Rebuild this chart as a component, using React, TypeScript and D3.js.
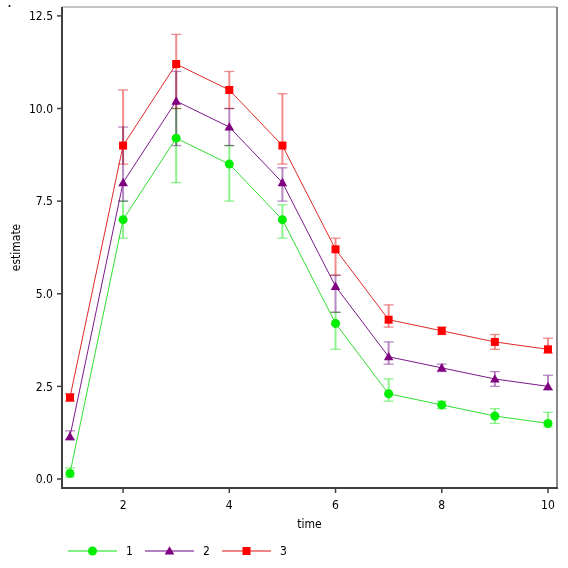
import React from "react";
import * as d3 from "d3";

const times = [1, 2, 3, 4, 5, 6, 7, 8, 9, 10];
const groupNames = ["1", "2", "3"];

const est1 = [0.15, 7.0, 9.2, 8.5, 7.0, 4.2, 2.3, 2.0, 1.7, 1.5];
const lo1 = [0.05, 6.5, 8.0, 7.5, 6.5, 3.5, 2.1, 1.9, 1.5, 1.4];
const hi1 = [0.3, 7.5, 10.0, 9.0, 7.4, 4.5, 2.7, 2.1, 1.9, 1.8];

const est2 = [1.15, 8.0, 10.2, 9.5, 8.0, 5.2, 3.3, 3.0, 2.7, 2.5];
const lo2 = [1.05, 7.5, 9.0, 9.0, 7.5, 4.5, 3.1, 2.9, 2.5, 2.4];
const hi2 = [1.3, 9.5, 11.0, 10.0, 8.4, 5.5, 3.7, 3.1, 2.9, 2.8];

const est3 = [2.2, 9.0, 11.2, 10.5, 9.0, 6.2, 4.3, 4.0, 3.7, 3.5];
const lo3 = [2.1, 8.5, 10.0, 10.0, 8.5, 5.5, 4.1, 3.9, 3.5, 3.4];
const hi3 = [2.3, 10.5, 12.0, 11.0, 10.4, 6.5, 4.7, 4.1, 3.9, 3.8];

const xTicks = [2, 4, 6, 8, 10];
const yTicks = [0, 2.5, 5, 7.5, 10, 12.5];

const colors = ["#00ee00", "#800080", "#ff0000"];
const lineColors = ["#33dd33", "#7a1a8a", "#e02a2a"];
const barColors = ["#66ee66", "#a060b0", "#ee6666"];
const shapes = ["circle", "triangle", "square"];

const W = 568;
const H = 568;
const L = 62, R = 557, T = 7, B = 488;
const FONT = "'Liberation Sans Narrow', 'DejaVu Sans Condensed', 'Liberation Sans', sans-serif";

function Marker({ shape, x, y, color }: { shape: string; x: number; y: number; color: string }) {
  if (shape === "circle") return <circle cx={x} cy={y} r={4.5} fill={color} />;
  if (shape === "square") return <rect x={x - 4} y={y - 4} width={8} height={8} fill={color} />;
  const p = d3.symbol().type(d3.symbolTriangle).size(40)();
  return <path d={p || ""} transform={`translate(${x},${y + 0.8})`} fill={color} />;
}

export default function App() {
  const x = d3.scaleLinear().domain([0.85, 10.17]).range([L, R]);
  const y = d3.scaleLinear().domain([-0.243, 12.74]).range([B, T]);
  const fmt = d3.format(".1f");

  const series = [
    { est: est1, lo: lo1, hi: hi1 },
    { est: est2, lo: lo2, hi: hi2 },
    { est: est3, lo: lo3, hi: hi3 },
  ];

  const line = d3
    .line<number>()
    .x((_, i) => x(times[i]))
    .y((d) => y(d));

  const legendX = [68, 145, 222];

  return (
    <svg
      width={W}
      height={H}
      style={{ position: "fixed", left: 0, top: 0, background: "#fff" }}
      fontFamily={FONT}
    >
      <rect x={0} y={0} width={W} height={H} fill="#fff" />
      <circle cx={9.5} cy={6} r={1} fill="#000" />

      {/* error bars */}
      {series.map((s, si) => (
        <g key={"eb" + si} stroke={barColors[si]} strokeOpacity={0.75} style={{ mixBlendMode: "multiply" }}>
          {times.map((t, i) => (
            <g key={i}>
              <line x1={x(t)} x2={x(t)} y1={y(s.lo[i])} y2={y(s.hi[i])} strokeWidth={2} />
              <line x1={x(t) - 5} x2={x(t) + 5} y1={y(s.lo[i])} y2={y(s.lo[i])} strokeWidth={1.3} />
              <line x1={x(t) - 5} x2={x(t) + 5} y1={y(s.hi[i])} y2={y(s.hi[i])} strokeWidth={1.3} />
            </g>
          ))}
        </g>
      ))}

      {/* lines */}
      {series.map((s, si) => (
        <path key={"ln" + si} d={line(s.est) || ""} fill="none" stroke={lineColors[si]} strokeWidth={1} />
      ))}

      {/* markers */}
      {series.map((s, si) => (
        <g key={"mk" + si}>
          {times.map((t, i) => (
            <Marker key={i} shape={shapes[si]} x={x(t)} y={y(s.est[i])} color={colors[si]} />
          ))}
        </g>
      ))}

      {/* frame */}
      <line x1={L} x2={R} y1={T} y2={T} stroke="#888" strokeWidth={1} />
      <line x1={R} x2={R} y1={T} y2={B} stroke="#888" strokeWidth={2} />
      <line x1={L} x2={L} y1={T} y2={B + 1} stroke="#404040" strokeWidth={2} />
      <line x1={L - 1} x2={R + 1} y1={B} y2={B} stroke="#404040" strokeWidth={2} />

      {/* y axis */}
      {yTicks.map((v) => (
        <g key={"yt" + v}>
          <line x1={L - 5} x2={L} y1={y(v)} y2={y(v)} stroke="#404040" strokeWidth={1.5} />
          <text x={L - 9} y={y(v)} dy="0.35em" textAnchor="end" fontSize={12} fill="#000">
            {fmt(v)}
          </text>
        </g>
      ))}
      <text
        transform={`translate(16,${(T + B) / 2}) rotate(-90)`}
        textAnchor="middle"
        dy="0.35em"
        fontSize={12}
        fill="#000"
      >
        estimate
      </text>

      {/* x axis */}
      {xTicks.map((v) => (
        <g key={"xt" + v}>
          <line x1={x(v)} x2={x(v)} y1={B} y2={B + 5} stroke="#404040" strokeWidth={1.5} />
          <text x={x(v)} y={505} dy="0.35em" textAnchor="middle" fontSize={12} fill="#000">
            {v}
          </text>
        </g>
      ))}
      <text x={(L + R) / 2} y={524} dy="0.35em" textAnchor="middle" fontSize={12} fill="#000">
        time
      </text>

      {/* legend */}
      {groupNames.map((g, si) => (
        <g key={"lg" + si}>
          <line
            x1={legendX[si]}
            x2={legendX[si] + 49}
            y1={551}
            y2={551}
            stroke={barColors[si]}
            strokeWidth={2}
            strokeOpacity={0.8}
          />
          <Marker shape={shapes[si]} x={legendX[si] + 24.5} y={551} color={colors[si]} />
          <text x={legendX[si] + 58} y={551} dy="0.35em" fontSize={12} fill="#000">
            {g}
          </text>
        </g>
      ))}
    </svg>
  );
}
